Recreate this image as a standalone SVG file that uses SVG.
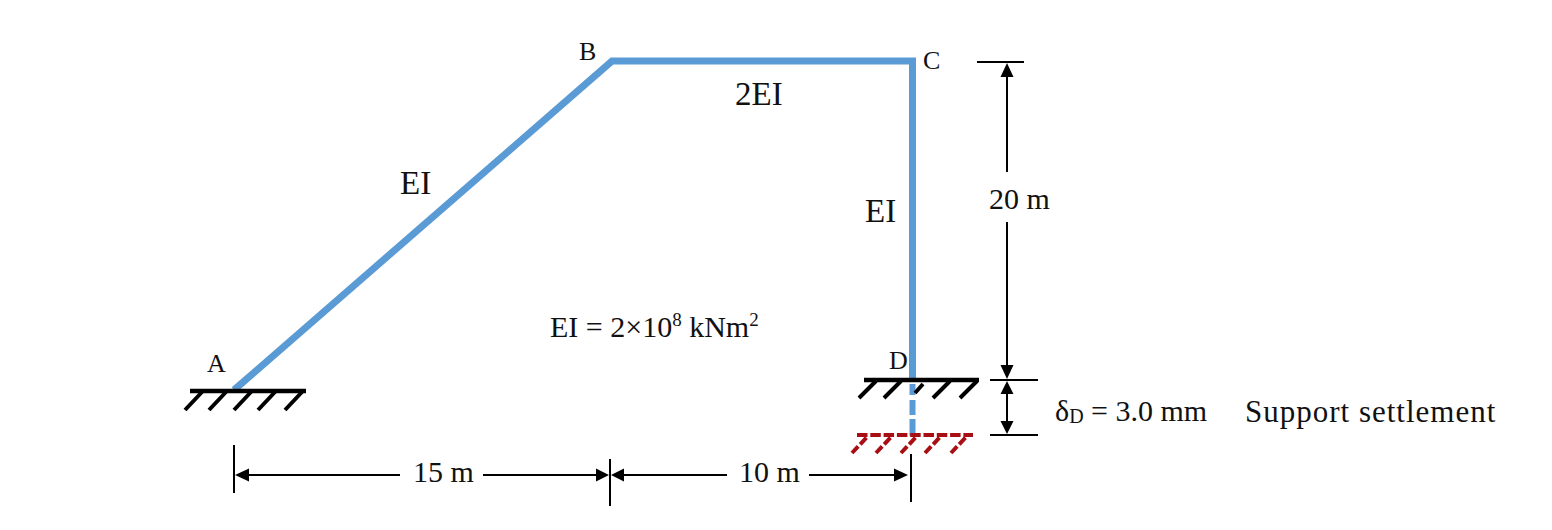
<svg xmlns="http://www.w3.org/2000/svg" width="1552" height="530" viewBox="0 0 1552 530">
<style>
text{font-family:"Liberation Serif","Times New Roman",serif;fill:#111}
.big{font-size:33px}.mid{font-size:30px}.lab{font-size:26px}
.mem{fill:none;stroke:#5b9bd5;stroke-width:7}
.blk{fill:none;stroke:#000;stroke-width:2}
.sup{fill:none;stroke:#000;stroke-width:4.5}
.hat{fill:none;stroke:#000;stroke-width:4}
.red{fill:none;stroke:#a80f14;stroke-width:4;stroke-dasharray:10.5 2.8}
.redm{fill:none;stroke:#a80f14;stroke-width:4;stroke-dasharray:9 3}
.ar{fill:#000}
</style>
<rect width="1552" height="530" fill="#fff"/>
<g id="connectors">
<g id="members">
<path class="mem" d="M234 390L612 61H912.5V378"/>
<path class="mem" d="M912.5 384V395M912.5 400V415M912.5 419V436" style="stroke-width:6"/>
</g>
<g id="dimensions">
<path class="blk" d="M234 445V493M610 459V506M911 454V502"/>
<path class="blk" d="M245 475H400M483 475H598M622 475H727M809 475H896"/>
<path class="ar" d="M235 475L249 468.5V481.5ZM609 475L596 468.5V481.5ZM611 475L624 468.5V481.5ZM908 475L894 468.5V481.5Z"/>
<path class="blk" d="M977 62H1024M990 380H1038M990 435H1038"/>
<path class="blk" d="M1007 74V172M1007 222V368M1007 392V423"/>
<path class="ar" d="M1007 63L1000.5 77H1013.5ZM1007 379L1000.5 365H1013.5ZM1007 381L1000.5 394H1013.5ZM1007 434L1000.5 421H1013.5Z"/>
</g>
</g>
<g id="support-A">
<path class="sup" d="M190 391H306"/>
<path class="hat" d="M185 410L202 392M209 410L226 392M234 410L251 392M258 410L275 392M285 410L302 392"/>
</g>
<g id="support-D">
<path class="sup" d="M864 380H979"/>
<path class="hat" d="M859 398L876 381M884 398L901 381M915 393L923 384M933 398L950 381M960 398L977 381"/>
</g>
<g id="support-D-settled">
<path class="red" d="M857 435H973"/>
<path class="redm" d="M852 453L868 436M876 453L892 436M901 453L917 436M925 453L941 436M951 453L967 436"/>
</g>
<g id="node-A"><text class="lab" x="207" y="372">A</text></g>
<g id="node-B"><text class="lab" x="579" y="60">B</text></g>
<g id="node-C"><text class="lab" x="923" y="69">C</text></g>
<g id="node-D"><text class="lab" x="889" y="369">D</text></g>
<g id="labels">
<text class="big" x="400" y="194">EI</text>
<text class="big" x="735" y="105">2EI</text>
<text class="big" x="865" y="222">EI</text>
<text class="mid" x="989" y="209">20 m</text>
<text class="mid" x="413" y="482">15 m</text>
<text class="mid" x="739" y="482">10 m</text>
<text class="mid" x="550" y="337">EI = 2×10<tspan font-size="19" dy="-11">8</tspan><tspan dy="11"> kNm</tspan><tspan font-size="19" dy="-11">2</tspan></text>
<text class="mid" x="1055" y="421">δ<tspan font-size="20" dy="2">D</tspan><tspan dy="-2"> = 3.0 mm</tspan></text>
<text x="1245" y="422" font-size="31" letter-spacing="1">Support settlement</text>
</g>
</svg>
